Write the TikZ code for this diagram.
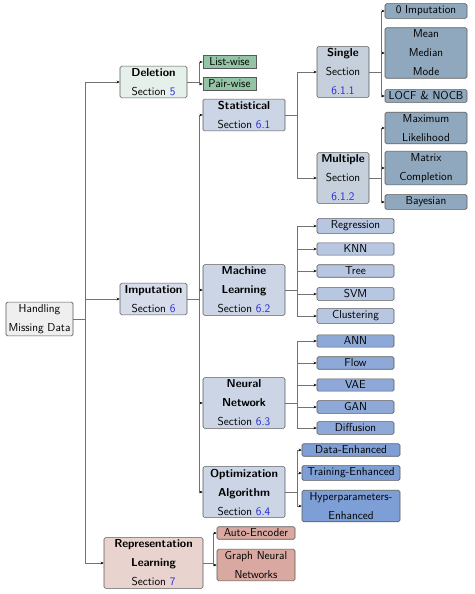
\documentclass[tikz,border=0pt]{standalone}
\usepackage{xcolor}
\usepackage{tikz}
\usetikzlibrary{arrows.meta, positioning}

\definecolor{rootfill}{HTML}{EFEFEF}
\definecolor{delfill}{HTML}{E6F0EA}
\definecolor{delleaf}{HTML}{93C4A5}
\definecolor{impfill}{HTML}{D6DCEA}
\definecolor{midfill}{HTML}{CBD5E6}
\definecolor{statfill}{HTML}{C5D0DC}
\definecolor{statleaf}{HTML}{8FA8BE}
\definecolor{mlleaf}{HTML}{B7C6E1}
\definecolor{nnleaf}{HTML}{8EA9D8}
\definecolor{optleaf}{HTML}{7E9FD6}
\definecolor{repfill}{HTML}{E8D3CF}
\definecolor{repleaf}{HTML}{D9A9A1}
\definecolor{secblue}{HTML}{2828D0}

\newcommand{\sect}[1]{Section \textcolor{secblue}{#1}}

\begin{document}
\begin{tikzpicture}[x=1pt, y=-1pt,
    box/.style={draw=black!65, line width=0.6pt, rounded corners=1.5pt, align=center,
                inner xsep=2pt, inner ysep=2.2pt,
                font=\sffamily\fontsize{11.5}{19}\selectfont},
    link/.style={draw=black!55, line width=0.7pt,
                 -{Stealth[length=3pt, width=2.6pt, black]}}]
    \useasboundingbox (0,0) rectangle (474,594);
    % Root and first level
    \node[box, fill=rootfill, minimum width=67pt] (root) at (39.5,319) {Handling\\Missing Data};
    \node[box, fill=delfill, minimum width=67pt] (del) at (153.5,82) {\textbf{Deletion}\\\sect{5}};
    \node[box, fill=impfill, minimum width=67pt] (imp) at (153.5,299) {\textbf{Imputation}\\\sect{6}};
    \node[box, fill=repfill, minimum width=99pt] (rep) at (153.5,563) {\textbf{Representation}\\\textbf{Learning}\\\sect{7}};
    % Deletion
    \node[box, fill=delleaf, minimum width=53pt, rounded corners=0pt] (list) at (229.5,62) {List-wise};
    \node[box, fill=delleaf, minimum width=53pt, rounded corners=0pt] (pair) at (229.5,84) {Pair-wise};
    % Imputation
    \node[box, fill=midfill, minimum width=82pt] (stat) at (244,115) {\textbf{Statistical}\\\sect{6.1}};
    \node[box, fill=midfill, minimum width=82pt] (ml) at (244,290) {\textbf{Machine}\\\textbf{Learning}\\\sect{6.2}};
    \node[box, fill=midfill, minimum width=82pt] (nn) at (244,403) {\textbf{Neural}\\\textbf{Network}\\\sect{6.3}};
    \node[box, fill=midfill, minimum width=82pt] (opt) at (244,492) {\textbf{Optimization}\\\textbf{Algorithm}\\\sect{6.4}};
    % Statistical
    \node[box, fill=statfill, minimum width=52pt] (single) at (343,72) {\textbf{Single}\\Section\\\textcolor{secblue}{6.1.1}};
    \node[box, fill=statfill, minimum width=52pt] (multi) at (343,178) {\textbf{Multiple}\\Section\\\textcolor{secblue}{6.1.2}};
    \node[box, fill=statleaf, minimum width=82pt] (zero) at (426,11) {0 Imputation};
    \node[box, fill=statleaf, minimum width=82pt] (mmm) at (426,53) {Mean\\Median\\Mode};
    \node[box, fill=statleaf, minimum width=82pt] (locf) at (426,96) {LOCF \& NOCB};
    \node[box, fill=statleaf, minimum width=82pt] (mle) at (426,128) {Maximum\\Likelihood};
    \node[box, fill=statleaf, minimum width=82pt] (mc) at (426,168) {Matrix\\Completion};
    \node[box, fill=statleaf, minimum width=82pt] (bay) at (426,202) {Bayesian};
    % Machine learning
    \node[box, fill=mlleaf, minimum width=77pt] (regr) at (355.5,226) {Regression};
    \node[box, fill=mlleaf, minimum width=77pt] (knn) at (355.5,249) {KNN};
    \node[box, fill=mlleaf, minimum width=77pt] (tree) at (355.5,271) {Tree};
    \node[box, fill=mlleaf, minimum width=77pt] (svm) at (355.5,294) {SVM};
    \node[box, fill=mlleaf, minimum width=77pt] (clus) at (355.5,316) {Clustering};
    % Neural network
    \node[box, fill=nnleaf, minimum width=77pt] (ann) at (355.5,341) {ANN};
    \node[box, fill=nnleaf, minimum width=77pt] (flow) at (355.5,363) {Flow};
    \node[box, fill=nnleaf, minimum width=77pt] (vae) at (355.5,385) {VAE};
    \node[box, fill=nnleaf, minimum width=77pt] (gan) at (355.5,407) {GAN};
    \node[box, fill=nnleaf, minimum width=77pt] (diff) at (355.5,428) {Diffusion};
    % Optimization
    \node[box, fill=optleaf, minimum width=98pt] (data) at (351,450) {Data-Enhanced};
    \node[box, fill=optleaf, minimum width=98pt] (train) at (351,473) {Training-Enhanced};
    \node[box, fill=optleaf, minimum width=98pt] (hyper) at (351,506) {Hyperparameters-\\Enhanced};
    % Representation learning
    \node[box, fill=repleaf, minimum width=78pt] (ae) at (256,533) {Auto-Encoder};
    \node[box, fill=repleaf, minimum width=78pt] (gnn) at (256,565) {Graph Neural\\Networks};
    % Connectors
    \foreach \c in {del, imp, rep}
        \draw[link] (root.east) -- ++(12,0) |- (\c.west);
    \foreach \c in {list, pair}
        \draw[link] (del.east) -- ++(12,0) |- (\c.west);
    \foreach \c in {stat, ml, nn, opt}
        \draw[link] (imp.east) -- ++(12,0) |- (\c.west);
    \foreach \c in {single, multi}
        \draw[link] (stat.east) -- ++(12,0) |- (\c.west);
    \foreach \c in {zero, mmm, locf}
        \draw[link] (single.east) -- ++(12,0) |- (\c.west);
    \foreach \c in {mle, mc, bay}
        \draw[link] (multi.east) -- ++(12,0) |- (\c.west);
    \foreach \c in {regr, knn, tree, svm, clus}
        \draw[link] (ml.east) -- ++(12,0) |- (\c.west);
    \foreach \c in {ann, flow, vae, gan, diff}
        \draw[link] (nn.east) -- ++(12,0) |- (\c.west);
    \foreach \c in {data, train, hyper}
        \draw[link] (opt.east) -- ++(12,0) |- (\c.west);
    \foreach \c in {ae, gnn}
        \draw[link] (rep.east) -- ++(10,0) |- (\c.west);
\end{tikzpicture}
\end{document}
